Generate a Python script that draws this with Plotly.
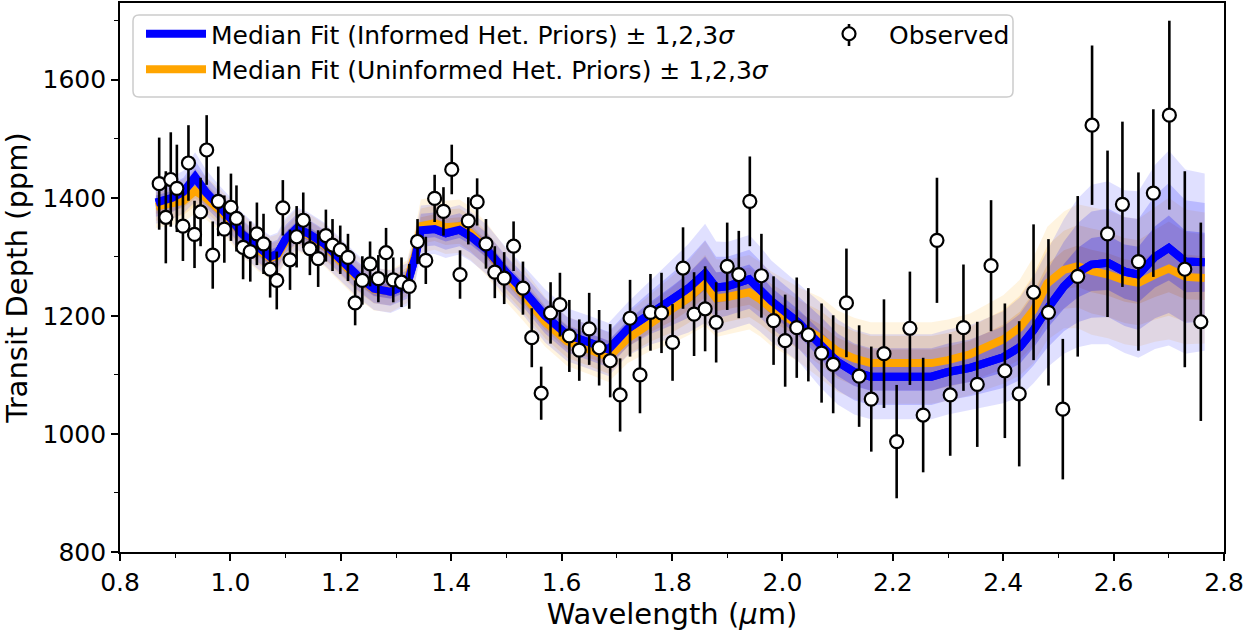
import plotly.graph_objects as go

# ---------------- observed data ----------------
obs_wl = [0.871, 0.883, 0.892, 0.903, 0.914, 0.924, 0.935, 0.946, 0.957, 0.968,
          0.978, 0.989, 1.001, 1.011, 1.023, 1.036, 1.048, 1.060, 1.072, 1.084,
          1.095, 1.108, 1.120, 1.132, 1.144, 1.159, 1.173, 1.185, 1.199, 1.213,
          1.226, 1.239, 1.253, 1.268, 1.282, 1.295, 1.310, 1.324, 1.339, 1.354,
          1.370, 1.386, 1.401, 1.416, 1.431, 1.447, 1.463, 1.479, 1.496, 1.513,
          1.530, 1.546, 1.563, 1.580, 1.597, 1.614, 1.632, 1.650, 1.668, 1.688,
          1.706, 1.724, 1.742, 1.761, 1.781, 1.801, 1.820, 1.840, 1.860, 1.880,
          1.900, 1.921, 1.941, 1.962, 1.984, 2.005, 2.026, 2.047, 2.071, 2.092,
          2.116, 2.139, 2.161, 2.184, 2.207, 2.231, 2.255, 2.280, 2.304, 2.328,
          2.353, 2.378, 2.403, 2.429, 2.455, 2.482, 2.508, 2.535, 2.561, 2.589,
          2.616, 2.645, 2.672, 2.701, 2.729, 2.758]
obs_depth = [1424, 1367, 1431, 1416, 1352, 1459, 1338, 1376, 1481, 1303,
             1394, 1347, 1384, 1365, 1316, 1309, 1339, 1322, 1279, 1260,
             1383, 1295, 1334, 1362, 1314, 1297, 1336, 1320, 1312, 1299,
             1222, 1260, 1288, 1263, 1307, 1261, 1257, 1250, 1326, 1294,
             1399, 1377, 1448, 1270, 1361, 1393, 1322, 1274, 1264, 1318,
             1247, 1163, 1069, 1205, 1219, 1166, 1142, 1178, 1146, 1124,
             1066, 1196, 1100, 1206, 1205, 1155, 1281, 1203, 1212, 1189,
             1284, 1270, 1394, 1268, 1192, 1158, 1180, 1168, 1137, 1118,
             1222, 1098, 1059, 1136, 987, 1179, 1032, 1328, 1066, 1180,
             1084, 1285, 1107, 1068, 1240, 1206, 1042, 1267, 1523, 1339,
             1389, 1292, 1408, 1540, 1279, 1190]
obs_err = [78, 78, 80, 74, 59, 64, 57, 58, 59, 57,
           59, 57, 57, 56, 54, 51, 53, 51, 48, 49,
           47, 51, 52, 47, 45, 48, 44, 44, 41, 40,
           38, 41, 38, 40, 42, 38, 42, 38, 38, 40,
           40, 41, 42, 41, 40, 40, 42, 44, 44, 42,
           45, 50, 45, 52, 54, 61, 52, 61, 64, 62,
           62, 65, 65, 65, 68, 65, 69, 71, 72, 68,
           74, 74, 76, 71, 75, 78, 85, 79, 84, 83,
           92, 86, 89, 92, 96, 96, 97, 106, 103, 107,
           106, 111, 114, 123, 115, 124, 119, 136, 135, 141,
           140, 151, 142, 160, 166, 168]

# ---------------- model fits ----------------
model_wl = [0.865, 0.895, 0.915, 0.936, 0.955, 0.98, 1.00, 1.02, 1.05, 1.072,
            1.085, 1.10, 1.12, 1.14, 1.17, 1.20, 1.23, 1.26, 1.29, 1.32,
            1.335, 1.345, 1.37, 1.39, 1.415, 1.435, 1.465, 1.50, 1.53, 1.57,
            1.61, 1.65, 1.685, 1.72, 1.76, 1.80, 1.83, 1.86, 1.88, 1.90,
            1.94, 1.96, 1.98, 2.03, 2.07, 2.10, 2.13, 2.16, 2.27, 2.30,
            2.34, 2.40, 2.43, 2.455, 2.48, 2.51, 2.535, 2.56, 2.59, 2.62,
            2.645, 2.675, 2.70, 2.73, 2.765]
blue_med = [1392, 1400, 1410, 1435, 1410, 1385, 1365, 1340, 1315, 1300,
            1305, 1330, 1348, 1340, 1322, 1295, 1268, 1246, 1241, 1253,
            1300, 1345, 1347, 1340, 1346, 1335, 1312, 1273, 1244, 1200,
            1168, 1155, 1143, 1178, 1205, 1228, 1247, 1272, 1248, 1250,
            1262, 1245, 1225, 1188, 1150, 1122, 1105, 1097, 1097, 1105,
            1112, 1130, 1147, 1176, 1212, 1250, 1273, 1287, 1290, 1275,
            1270, 1300, 1315, 1292, 1291]
orange_med = [1385, 1390, 1395, 1412, 1400, 1380, 1360, 1338, 1312, 1298,
              1302, 1326, 1345, 1338, 1320, 1292, 1265, 1245, 1242, 1258,
              1305, 1352, 1357, 1350, 1352, 1340, 1312, 1268, 1237, 1190,
              1157, 1143, 1130, 1162, 1188, 1210, 1230, 1255, 1230, 1232,
              1240, 1228, 1212, 1185, 1162, 1140, 1128, 1120, 1120, 1125,
              1135, 1160, 1180, 1210, 1255, 1278, 1284, 1276, 1270, 1260,
              1256, 1270, 1280, 1266, 1264]
blue_sig = [12, 12, 12, 14, 13, 12, 12, 12, 12, 12,
            12, 12, 12, 12, 12, 12, 12, 12, 12, 12,
            14, 14, 14, 14, 14, 14, 14, 14, 14, 15,
            15, 15, 15, 15, 18, 22, 25, 28, 26, 25,
            25, 24, 23, 22, 24, 24, 24, 24, 24, 24,
            24, 26, 28, 30, 33, 38, 42, 45, 46, 46,
            47, 52, 55, 52, 50]
orange_sig = [12, 12, 12, 13, 12, 12, 12, 12, 12, 12,
              12, 12, 12, 12, 12, 12, 12, 12, 12, 12,
              15, 15, 15, 15, 15, 15, 15, 15, 15, 14,
              14, 14, 14, 14, 16, 19, 21, 24, 22, 21,
              21, 21, 21, 21, 23, 23, 23, 23, 23, 23,
              23, 25, 27, 30, 32, 33, 35, 36, 36, 36,
              36, 38, 40, 38, 37]

x_ticks = [0.8, 1.0, 1.2, 1.4, 1.6, 1.8, 2.0, 2.2, 2.4, 2.6, 2.8]
x_ticklabels = ["0.8", "1.0", "1.2", "1.4", "1.6", "1.8", "2.0", "2.2", "2.4", "2.6", "2.8"]
x_minor = [0.9, 1.1, 1.3, 1.5, 1.7, 1.9, 2.1, 2.3, 2.5, 2.7]
y_ticks = [800, 1000, 1200, 1400, 1600]
y_minor = [900, 1100, 1300, 1500, 1700]

blue_label = "Median Fit (Informed Het. Priors) ± 1,2,3<i>σ</i>"
orange_label = "Median Fit (Uninformed Het. Priors) ± 1,2,3<i>σ</i>"
obs_label = "Observed"

FONT = "DejaVu Sans"
W, H = 1243, 632
ML, MR, MT, MB = 120, 19, 3, 80
PW, PH = W - ML - MR, H - MT - MB

fig = go.Figure()

band_alpha = {3: 0.12, 2: 0.17, 1: 0.24}


def add_bands(med, sig, rgb):
    for k in (3, 2, 1):
        upper = [m + k * s for m, s in zip(med, sig)]
        lower = [m - k * s for m, s in zip(med, sig)]
        fig.add_trace(go.Scatter(
            x=model_wl + model_wl[::-1], y=upper + lower[::-1],
            fill="toself", fillcolor="rgba(%s,%.2f)" % (rgb, band_alpha[k]),
            mode="lines", line=dict(width=0), hoverinfo="skip",
            showlegend=False))


add_bands(orange_med, orange_sig, "255,165,0")
add_bands(blue_med, blue_sig, "0,0,255")

fig.add_trace(go.Scatter(x=model_wl, y=blue_med, mode="lines",
                         line=dict(color="#0000ff", width=8),
                         name=blue_label, legend="legend", legendgroup="b"))
fig.add_trace(go.Scatter(x=model_wl, y=orange_med, mode="lines",
                         line=dict(color="#ffa500", width=8),
                         name=orange_label, legend="legend", legendgroup="o"))
# blue median drawn again so it sits above the orange one
fig.add_trace(go.Scatter(x=model_wl, y=blue_med, mode="lines",
                         line=dict(color="#0000ff", width=8),
                         showlegend=False, hoverinfo="skip"))

fig.add_trace(go.Scatter(
    x=obs_wl, y=obs_depth, mode="markers", name=obs_label, legend="legend2",
    marker=dict(symbol="circle", size=13, color="white",
                line=dict(color="black", width=2.2)),
    error_y=dict(type="data", array=obs_err, visible=True,
                 color="black", thickness=2.6, width=0)))

axis_common = dict(
    showline=True, linecolor="black", linewidth=1.6, mirror=True,
    ticks="outside", ticklen=7, tickwidth=1.6, tickcolor="black",
    showgrid=False, zeroline=False, automargin=False,
    ticklabeloverflow="allow",
    tickfont=dict(family=FONT, size=25, color="black"),
)


def px_x(px):
    return (px - ML) / PW


def px_y(py):
    return (H - MB - py) / PH


# rounded legend frame (matplotlib style), in pixel terms converted to paper
bx0, bx1, by0, by1, rad = px_x(133), px_x(1013), px_y(97), px_y(15), 6
rx, ry = rad / PW, rad / PH
frame_path = (
    f"M {bx0+rx},{by1} L {bx1-rx},{by1} Q {bx1},{by1} {bx1},{by1-ry} "
    f"L {bx1},{by0+ry} Q {bx1},{by0} {bx1-rx},{by0} "
    f"L {bx0+rx},{by0} Q {bx0},{by0} {bx0},{by0+ry} "
    f"L {bx0},{by1-ry} Q {bx0},{by1} {bx0+rx},{by1} Z")

legend_font = dict(family=FONT, size=25, color="black")

fig.update_layout(
    width=W, height=H,
    margin=dict(l=ML, r=MR, t=MT, b=MB, autoexpand=False),
    paper_bgcolor="white", plot_bgcolor="white",
    font=dict(family=FONT, color="black"),
    xaxis=dict(range=[0.8, 2.8], tickmode="array", tickvals=x_ticks,
               ticktext=x_ticklabels,
               title=dict(text="Wavelength (<i>μ</i>m)",
                          font=dict(family=FONT, size=29), standoff=2),
               minor=dict(tickmode="array", tickvals=x_minor, ticks="outside",
                          ticklen=4, tickwidth=1.3, tickcolor="black"),
               **axis_common),
    yaxis=dict(range=[800, 1730], tickmode="array", tickvals=y_ticks,
               title=dict(text="Transit Depth (ppm)",
                          font=dict(family=FONT, size=29), standoff=8),
               minor=dict(tickmode="array", tickvals=y_minor, ticks="outside",
                          ticklen=4, tickwidth=1.3, tickcolor="black"),
               **axis_common),
    shapes=[
        dict(type="path", path=frame_path, xref="paper", yref="paper",
             fillcolor="rgba(255,255,255,0.8)",
             line=dict(color="#cccccc", width=1.5), layer="above"),
        # error-bar stroke behind the "Observed" legend marker
        dict(type="line", xref="paper", yref="paper",
             x0=px_x(849), x1=px_x(849), y0=px_y(46), y1=px_y(24),
             line=dict(color="black", width=2.6), layer="above"),
    ],
    legend=dict(orientation="v", x=px_x(141), y=px_y(11), xanchor="left",
                yanchor="top", bgcolor="rgba(0,0,0,0)", borderwidth=0,
                itemwidth=60, tracegroupgap=0, font=legend_font),
    legend2=dict(orientation="v", x=px_x(809), y=px_y(11), xanchor="left",
                 yanchor="top", bgcolor="rgba(0,0,0,0)", borderwidth=0,
                 itemwidth=70, font=legend_font),
    showlegend=True,
)

fig.write_html("out.html")
